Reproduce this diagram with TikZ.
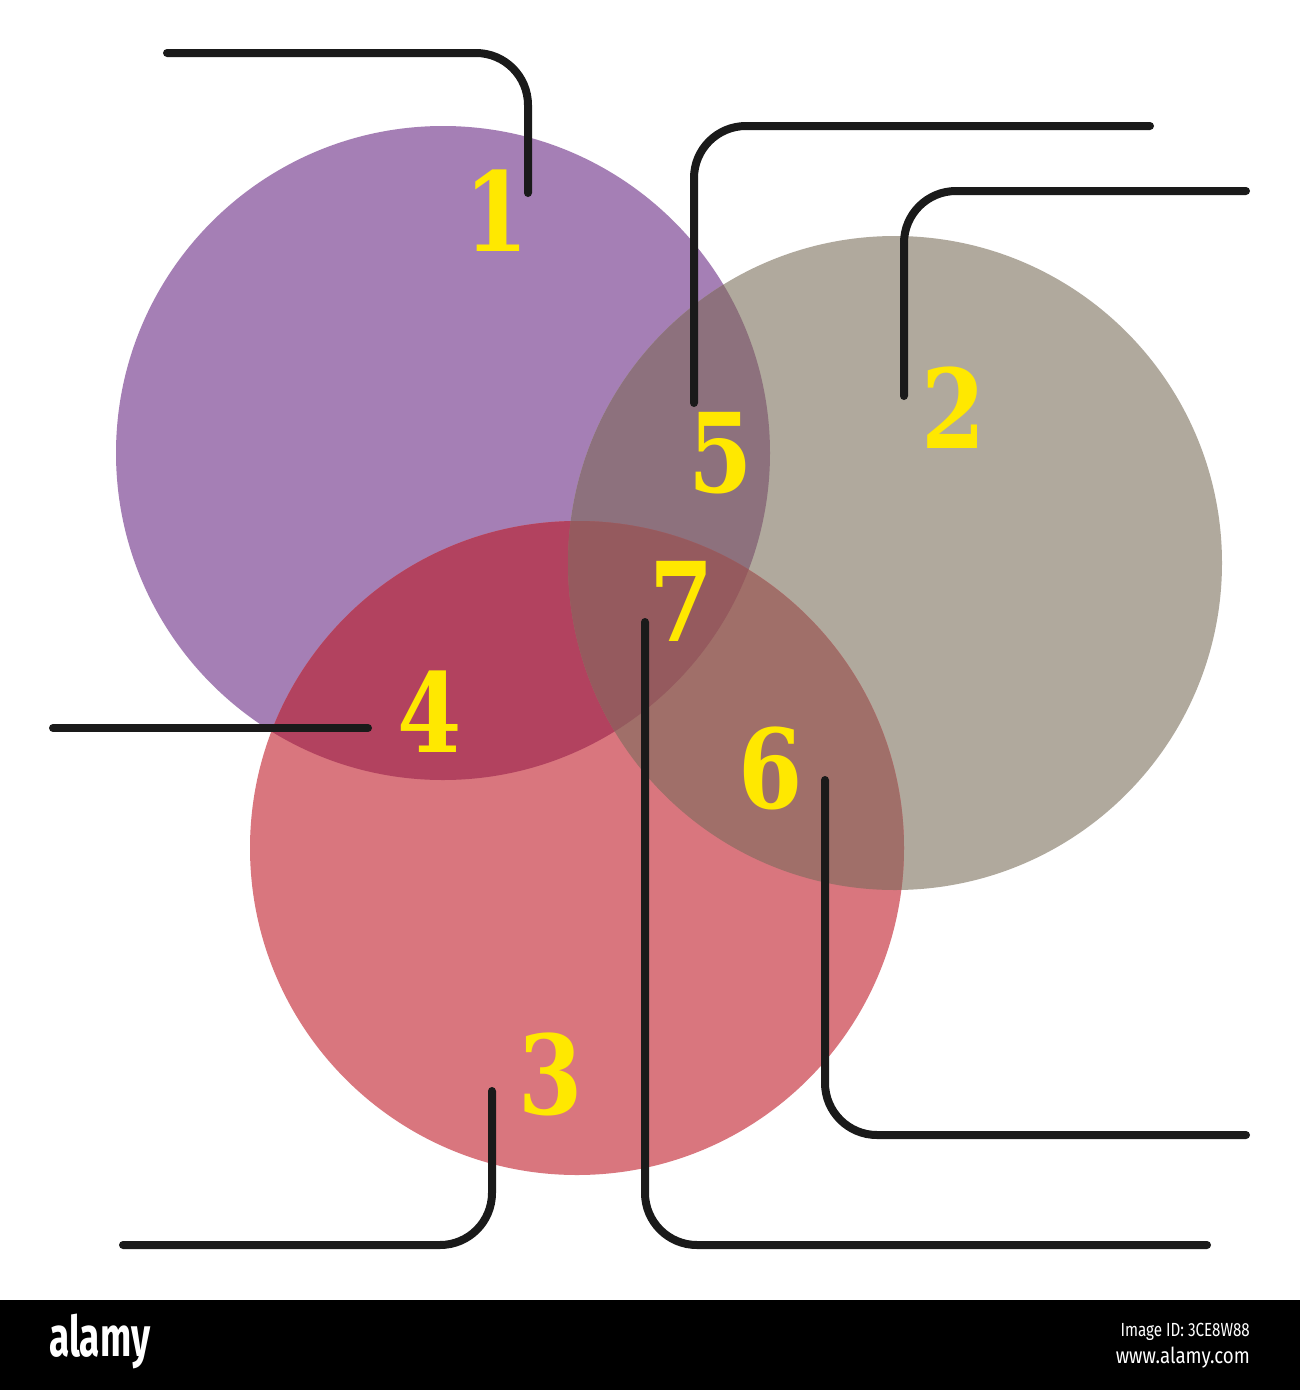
\documentclass[tikz,border=0pt]{standalone}
\usepackage{fontspec}
\newfontfamily\digitfont{DejaVu Serif}
\newfontfamily\barfont{Fira Sans}
\definecolor{cP}{HTML}{A57FB5}
\definecolor{cG}{HTML}{B0A99D}
\definecolor{cR}{HTML}{D9767E}
\definecolor{cPG}{HTML}{8D717D}
\definecolor{cPR}{HTML}{B2425F}
\definecolor{cGR}{HTML}{A06F69}
\definecolor{cPGR}{HTML}{955A5E}
\definecolor{lineblack}{HTML}{1A1A1A}
\definecolor{numyellow}{HTML}{FFE800}
\begin{document}
\begin{tikzpicture}[x=1pt,y=-1pt,
  leader/.style={draw=lineblack,line width=8pt,line cap=round,rounded corners=52pt},
  num/.style={inner sep=0pt,text=numyellow,xscale=0.84,font=\digitfont\bfseries\fontsize{110}{110}\selectfont},
  bartext/.style={inner sep=0pt,text=white,font=\barfont}]
\useasboundingbox (0,0) rectangle (1300,1390);
\fill[white] (0,0) rectangle (1300,1390);
% circles
\coordinate (cp) at (443,453);
\coordinate (cg) at (895,563);
\coordinate (cr) at (577,848);
\fill[cP] (cp) circle[radius=327];
\fill[cG] (cg) circle[radius=327];
\fill[cR] (cr) circle[radius=327];
\begin{scope}
  \clip (cp) circle[radius=327];
  \fill[cPG] (cg) circle[radius=327];
  \fill[cPR] (cr) circle[radius=327];
\end{scope}
\begin{scope}
  \clip (cg) circle[radius=327];
  \fill[cGR] (cr) circle[radius=327];
\end{scope}
\begin{scope}
  \clip (cp) circle[radius=327];
  \clip (cg) circle[radius=327];
  \fill[cPGR] (cr) circle[radius=327];
\end{scope}
% numbers
\node[num] (n1) at (497,211) {1};
\node[num] (n2) at (954,408) {2};
\node[num] (n3) at (551,1074) {3};
\node[num] (n4) at (430,712) {4};
\node[num] (n5) at (721,453) {5};
\node[num] (n6) at (771,768) {6};
\node[num] (n7) at (682,601) {7};
% leader ends
\coordinate (a1) at (167,53);  \coordinate (b1) at (528,193);
\coordinate (a5) at (1150,126); \coordinate (b5) at (694,403);
\coordinate (a2) at (1246,191); \coordinate (b2) at (904,396);
\coordinate (a4) at (53,728);  \coordinate (b4) at (368,728);
\coordinate (a7) at (1207,1245); \coordinate (b7) at (645,622);
\coordinate (a6) at (1246,1135); \coordinate (b6) at (825,780);
\coordinate (a3) at (123,1245); \coordinate (b3) at (492,1091);
\path[leader] (a1) -| (b1);
\path[leader] (a5) -| (b5);
\path[leader] (a2) -| (b2);
\path[leader] (a4) -- (b4);
\path[leader] (a7) -| (b7);
\path[leader] (a6) -| (b6);
\path[leader] (a3) -| (b3);
% bottom bar
\fill[black] (0,1300) rectangle (1300,1390);
\node[bartext,font=\barfont\bfseries\fontsize{56}{56}\selectfont,xscale=0.66,anchor=west] (logo) at (49,1341) {alamy};
\node[bartext,font=\barfont\fontsize{19}{19}\selectfont,xscale=0.8,anchor=east] (imgid) at (1250,1332) {Image ID: 3CE8W88};
\node[bartext,font=\barfont\fontsize{22}{22}\selectfont,xscale=0.85,anchor=east] (www) at (1250,1358) {www.alamy.com};
\end{tikzpicture}
\end{document}
